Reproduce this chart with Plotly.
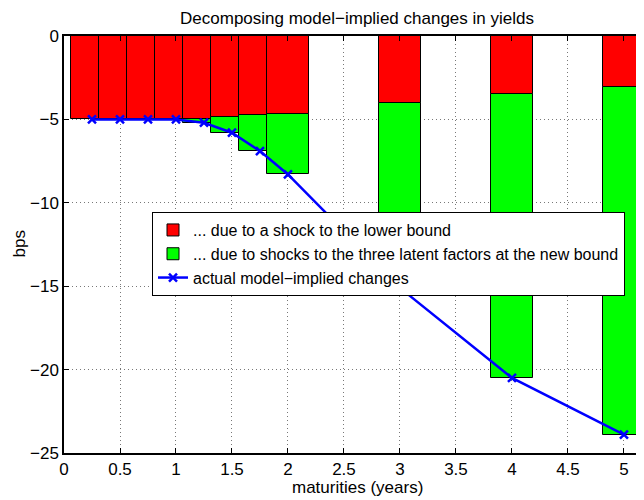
import plotly.graph_objects as go

# maturities in years
maturities = [0.25, 0.5, 0.75, 1, 1.25, 1.5, 1.75, 2, 3, 4, 5]
# bps
lower_bound_part = [-5.0, -5.0, -5.0, -5.0, -4.95, -4.88, -4.75, -4.65, -4.0, -3.5, -3.08]
latent_part = [0.0, 0.0, 0.0, 0.0, -0.25, -0.92, -2.15, -3.65, -11.1, -17.0, -20.85]
actual_change = [-5.0, -5.0, -5.0, -5.0, -5.2, -5.8, -6.9, -8.3, -15.1, -20.5, -23.9]

x_ticks = [0, 0.5, 1, 1.5, 2, 2.5, 3, 3.5, 4, 4.5, 5]
y_ticks = [0, -5, -10, -15, -20, -25]

# the page body adds an 8px offset, so the figure is made 8px smaller
W, H = 636, 492

font = dict(family="Arial, Liberation Sans, sans-serif", size=17, color="black")

fig = go.Figure()

fig.add_trace(go.Bar(
    x=maturities, y=lower_bound_part,
    width=0.375,
    name="... due to a shock to the lower bound",
    marker=dict(color="rgb(255,0,0)", line=dict(color="black", width=1)),
))
fig.add_trace(go.Bar(
    x=maturities, y=latent_part,
    width=0.375,
    name="... due to shocks to the three latent factors at the new bound",
    marker=dict(color="rgb(0,255,0)", line=dict(color="black", width=1)),
))
fig.add_trace(go.Scatter(
    x=maturities, y=actual_change,
    mode="lines+markers",
    name="actual model\u2212implied changes",
    line=dict(color="rgb(0,0,255)", width=2.5),
    marker=dict(symbol="x-thin", size=8, color="rgb(0,0,255)",
                line=dict(color="rgb(0,0,255)", width=2.5)),
))

fig.update_layout(
    width=W, height=H,
    barmode="relative",
    bargap=0,
    paper_bgcolor="white",
    plot_bgcolor="white",
    font=font,
    margin=dict(l=56, r=0, t=28, b=47),
    title=dict(text="Decomposing model\u2212implied changes in yields",
               x=349 / W, xref="container", xanchor="center",
               y=1 - 10 / H, yref="container", yanchor="middle",
               font=dict(size=17)),
    legend=dict(
        x=(152 - 64) / 580, y=(453.3 - 212) / 417.6, xanchor="left", yanchor="top",
        bgcolor="white", bordercolor="black", borderwidth=1,
        traceorder="normal", tracegroupgap=0,
        font=dict(size=16),
        itemwidth=30,
    ),
    showlegend=True,
    annotations=[
        dict(text="maturities (years)", xref="paper", yref="paper",
             x=(357 - 64) / 580, y=0, xanchor="center", yanchor="middle",
             yshift=-34, showarrow=False, font=dict(size=17)),
        dict(text="bps", xref="paper", yref="paper", textangle=-90,
             x=0, y=0.5, xanchor="center", yanchor="middle",
             xshift=-45, showarrow=False, font=dict(size=17)),
    ],
)

fig.update_xaxes(
    range=[0, 5.179],
    tickvals=x_ticks,
    ticktext=[f"{v:g}" for v in x_ticks],
    ticks="inside", ticklen=5, tickcolor="black",
    showline=True, linecolor="black", linewidth=1.5,
    mirror="ticks",
    showgrid=True, gridcolor="rgb(120,120,120)", griddash="1px,3px", gridwidth=1,
    zeroline=False,
    automargin=False,
)
fig.update_yaxes(
    range=[-25, 0],
    tickvals=y_ticks,
    ticks="inside", ticklen=5, tickcolor="black",
    showline=True, linecolor="black", linewidth=1.5,
    showgrid=True, gridcolor="rgb(120,120,120)", griddash="1px,3px", gridwidth=1,
    zeroline=False,
    automargin=False,
)

fig.write_html("out.html")
